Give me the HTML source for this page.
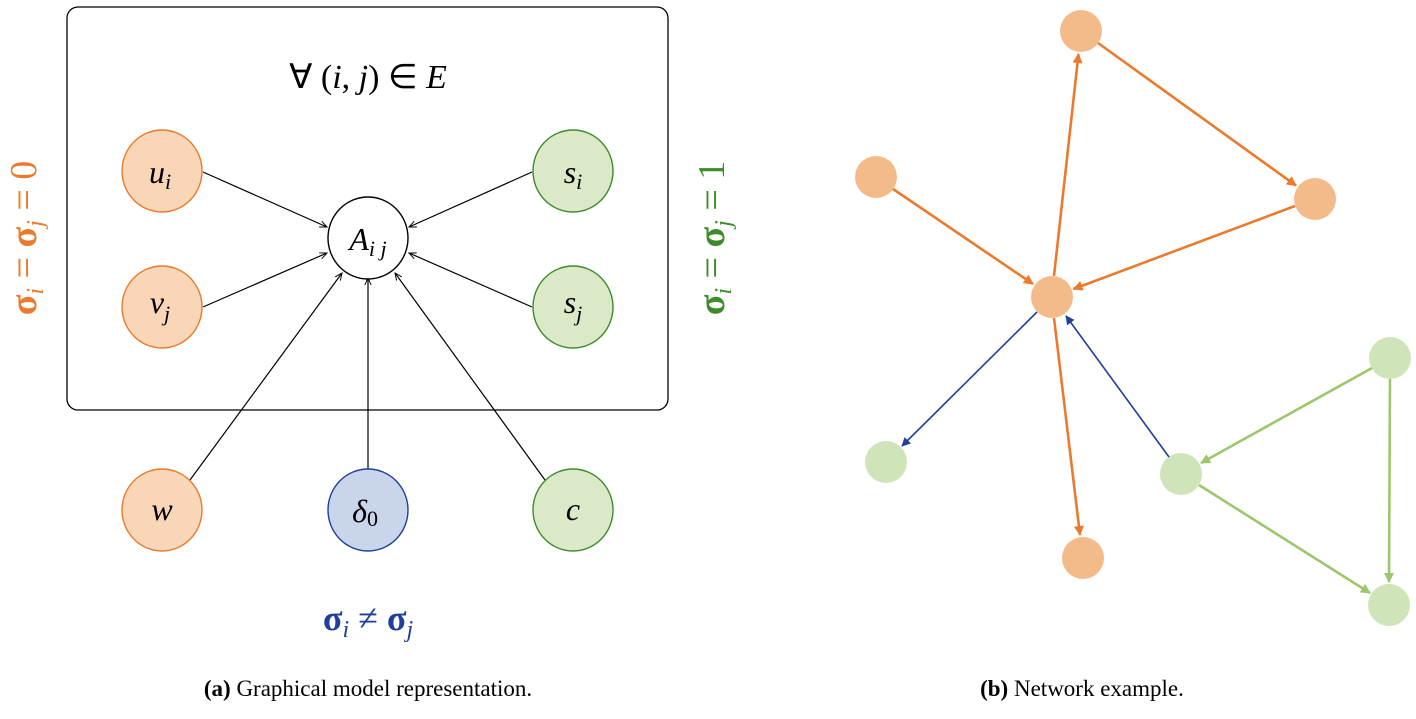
<!DOCTYPE html>
<html><head><meta charset="utf-8"><style>
html,body{margin:0;padding:0;background:#fff;}
svg{display:block;}
text{font-family:"Liberation Serif",serif;}
</style></head><body>
<svg width="1416" height="719" viewBox="0 0 1416 719" xmlns="http://www.w3.org/2000/svg">
<defs>
<marker id="ao" viewBox="0 0 10 10" refX="9" refY="5" markerWidth="12" markerHeight="10" markerUnits="userSpaceOnUse" orient="auto"><path d="M0,0 L10,5 L0,10 z" fill="#ec7a2c"/></marker>
<marker id="ab" viewBox="0 0 10 10" refX="9" refY="5" markerWidth="10" markerHeight="9" markerUnits="userSpaceOnUse" orient="auto"><path d="M0,0 L10,5 L0,10 z" fill="#1f3f99"/></marker>
<marker id="ag" viewBox="0 0 10 10" refX="9" refY="5" markerWidth="12" markerHeight="10" markerUnits="userSpaceOnUse" orient="auto"><path d="M0,0 L10,5 L0,10 z" fill="#9cc76c"/></marker>
<marker id="ak" viewBox="0 0 10 10" refX="9" refY="5" markerWidth="8" markerHeight="8" markerUnits="userSpaceOnUse" orient="auto"><path d="M0,1 L9,5 L0,9" fill="none" stroke="#000" stroke-width="1.2"/></marker>
</defs>
<rect x="67" y="7" width="601" height="403" rx="11" fill="none" stroke="#000" stroke-width="1.3"/>
<text x="368" y="88" font-size="34" text-anchor="middle">∀ (<tspan font-style="italic">i</tspan>, <tspan font-style="italic">j</tspan>) ∈ <tspan font-style="italic">E</tspan></text>
<g stroke="#000" stroke-width="1.2" marker-end="url(#ak)">
<line x1="203" y1="172" x2="327" y2="227"/>
<line x1="203" y1="307" x2="327" y2="253"/>
<line x1="532" y1="172" x2="409" y2="227"/>
<line x1="532" y1="307" x2="409" y2="253"/>
<line x1="190" y1="480" x2="342" y2="273"/>
<line x1="368" y1="470" x2="368" y2="278"/>
<line x1="545" y1="480" x2="395" y2="273"/>
</g>
<g font-size="32" font-style="italic" text-anchor="middle">
<ellipse cx="162" cy="171" rx="40" ry="41" fill="#f8d6b7" stroke="#ec7a2c" stroke-width="1.4"/>
<text x="160" y="183">u<tspan font-size="22" dy="6">i</tspan></text>
<ellipse cx="162" cy="307" rx="40" ry="41" fill="#f8d6b7" stroke="#ec7a2c" stroke-width="1.4"/>
<text x="160" y="313">v<tspan font-size="22" dy="8">j</tspan></text>
<ellipse cx="573" cy="171" rx="40" ry="41" fill="#dbe9c9" stroke="#3c8c2c" stroke-width="1.4"/>
<text x="573" y="183">s<tspan font-size="22" dy="6">i</tspan></text>
<ellipse cx="573" cy="307" rx="40" ry="41" fill="#dbe9c9" stroke="#3c8c2c" stroke-width="1.4"/>
<text x="573" y="313">s<tspan font-size="22" dy="8">j</tspan></text>
<ellipse cx="368" cy="238" rx="40" ry="41" fill="#fff" stroke="#000" stroke-width="1.4"/>
<text x="368" y="250">A<tspan font-size="22" dy="6">i j</tspan></text>
<ellipse cx="162" cy="510" rx="40" ry="41" fill="#f8d6b7" stroke="#ec7a2c" stroke-width="1.4"/>
<text x="162" y="520">w</text>
<ellipse cx="368" cy="510" rx="40" ry="41" fill="#c9d5ea" stroke="#1f3f99" stroke-width="1.4"/>
<text x="365" y="522">δ<tspan font-size="22" dy="4" font-style="normal">0</tspan></text>
<ellipse cx="573" cy="510" rx="40" ry="41" fill="#dbe9c9" stroke="#3c8c2c" stroke-width="1.4"/>
<text x="573" y="520">c</text>
</g>
<text transform="translate(36,238) rotate(-90)" font-size="38" fill="#ec7a2c" text-anchor="middle" font-weight="bold">σ<tspan font-size="24" dy="7" font-style="italic" font-weight="normal">i</tspan><tspan dy="-7" font-weight="normal"> = </tspan>σ<tspan font-size="24" dy="7" font-style="italic" font-weight="normal">j</tspan><tspan dy="-7" font-weight="normal"> = 0</tspan></text>
<text transform="translate(724,238) rotate(-90)" font-size="38" fill="#3c8c2c" text-anchor="middle" font-weight="bold">σ<tspan font-size="24" dy="7" font-style="italic" font-weight="normal">i</tspan><tspan dy="-7" font-weight="normal"> = </tspan>σ<tspan font-size="24" dy="7" font-style="italic" font-weight="normal">j</tspan><tspan dy="-7" font-weight="normal"> = 1</tspan></text>
<text x="368" y="630" font-size="36" fill="#1f3f99" text-anchor="middle" font-weight="bold">σ<tspan font-size="24" dy="7" font-style="italic" font-weight="normal">i</tspan><tspan dy="-7" font-weight="normal"> ≠ </tspan>σ<tspan font-size="24" dy="7" font-style="italic" font-weight="normal">j</tspan></text>
<text x="368" y="696" font-size="23" text-anchor="middle"><tspan font-weight="bold">(a)</tspan> Graphical model representation.</text>
<text x="1082" y="696" font-size="23" text-anchor="middle"><tspan font-weight="bold">(b)</tspan> Network example.</text>
<g fill="#f4bb8a">
<circle cx="1081" cy="31" r="21"/>
<circle cx="876" cy="177" r="21"/>
<circle cx="1315" cy="199" r="21"/>
<circle cx="1052" cy="297" r="21"/>
<circle cx="1083" cy="558" r="21"/>
</g>
<g fill="#d0e4b9">
<circle cx="886" cy="462" r="21"/>
<circle cx="1181" cy="474" r="21"/>
<circle cx="1390" cy="358" r="21"/>
<circle cx="1389" cy="605" r="21"/>
</g>
<g stroke-width="2.6" fill="none">
<line x1="1054" y1="276" x2="1078.5" y2="54" stroke="#ec7a2c" marker-end="url(#ao)"/>
<line x1="1098" y1="43" x2="1296" y2="185.6" stroke="#ec7a2c" marker-end="url(#ao)"/>
<line x1="1295" y1="206" x2="1073.5" y2="289" stroke="#ec7a2c" marker-end="url(#ao)"/>
<line x1="893" y1="189" x2="1033" y2="284" stroke="#ec7a2c" marker-end="url(#ao)"/>
<line x1="1054" y1="318" x2="1080" y2="535" stroke="#ec7a2c" marker-end="url(#ao)"/>
<line x1="1372" y1="368" x2="1201" y2="463" stroke="#9cc76c" marker-end="url(#ag)"/>
<line x1="1390" y1="379" x2="1389" y2="582" stroke="#9cc76c" marker-end="url(#ag)"/>
<line x1="1199" y1="485" x2="1370" y2="593" stroke="#9cc76c" marker-end="url(#ag)"/>
<line x1="1037" y1="312" x2="902" y2="446" stroke="#1f3f99" stroke-width="1.6" marker-end="url(#ab)"/>
<line x1="1169" y1="457" x2="1066" y2="316" stroke="#1f3f99" stroke-width="1.6" marker-end="url(#ab)"/>
</g>
</svg>
</body></html>
